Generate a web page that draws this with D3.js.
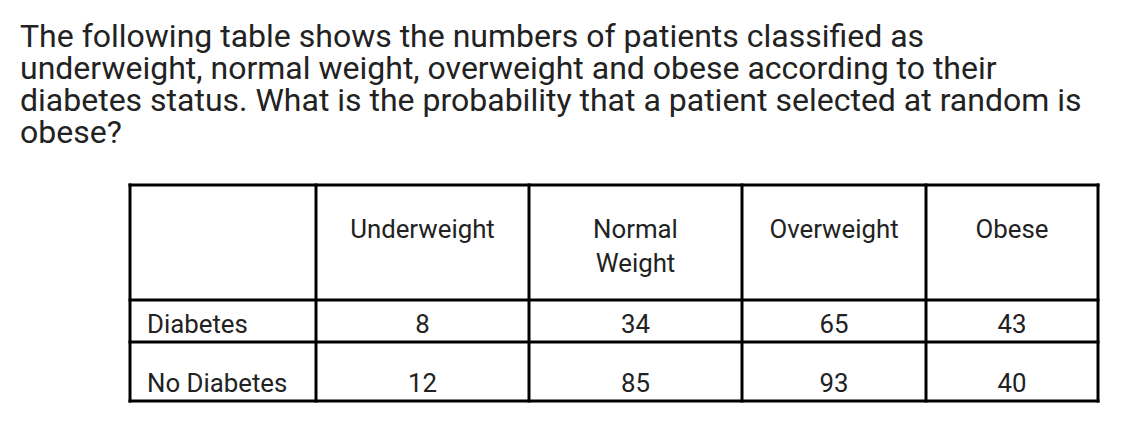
<!DOCTYPE html>
<html>
<head>
<meta charset="utf-8">
<script src="https://cdn.jsdelivr.net/npm/d3@7"></script>
<style>
  body { margin: 0; background: #fff; }
</style>
</head>
<body>
<svg id="chart" width="1126" height="432"></svg>
<script>
const questionLines = [
  'The following table shows the numbers of patients classified as',
  'underweight, normal weight, overweight and obese according to their',
  'diabetes status. What is the probability that a patient selected at random is',
  'obese?'
];
const categories = ['Underweight', 'Normal\nWeight', 'Overweight', 'Obese'];
const rowLabels = ['Diabetes', 'No Diabetes'];
const diabetes = [8, 34, 65, 43];
const noDiabetes = [12, 85, 93, 40];

const svg = d3.select('#chart');
const font = 'Roboto, sans-serif';

// question text
svg.append('g')
  .selectAll('text')
  .data(questionLines)
  .join('text')
  .attr('x', 20)
  .attr('y', (d, i) => 47 + i * 32)
  .attr('font-family', font)
  .attr('font-size', 32)
  .attr('fill', '#222')
  .text(d => d);

// table geometry
const colEdges = [130, 316, 529, 742, 926, 1098];
const rowEdges = [185, 300, 342, 401];
const g = svg.append('g');
const cellSize = 25.8;

// cell texts
const rows = [diabetes, noDiabetes];
categories.forEach((c, i) => {
  const cx = (colEdges[i + 1] + colEdges[i + 2]) / 2;
  c.split('\n').forEach((line, j) => {
    g.append('text')
      .attr('x', cx).attr('y', 238 + j * 34)
      .attr('text-anchor', 'middle')
      .attr('font-family', font).attr('font-size', cellSize).attr('fill', '#222')
      .text(line);
  });
});
rows.forEach((vals, r) => {
  const by = rowEdges[r + 2] - 9;
  g.append('text')
    .attr('x', 147).attr('y', by)
    .attr('font-family', font).attr('font-size', cellSize).attr('fill', '#222')
    .text(rowLabels[r]);
  g.selectAll(null)
    .data(vals)
    .join('text')
    .attr('x', (d, i) => (colEdges[i + 1] + colEdges[i + 2]) / 2)
    .attr('y', by)
    .attr('text-anchor', 'middle')
    .attr('font-family', font).attr('font-size', cellSize).attr('fill', '#222')
    .text(d => d);
});

// grid lines
g.selectAll('line.v')
  .data(colEdges)
  .join('line')
  .attr('x1', d => d).attr('x2', d => d)
  .attr('y1', rowEdges[0] - 1.5).attr('y2', rowEdges[3] + 1.5)
  .attr('stroke', '#000').attr('stroke-width', 3);
g.selectAll('line.h')
  .data(rowEdges)
  .join('line')
  .attr('y1', d => d).attr('y2', d => d)
  .attr('x1', colEdges[0] - 1.5).attr('x2', colEdges[5] + 1.5)
  .attr('stroke', '#000').attr('stroke-width', 3);
</script>
</body>
</html>
